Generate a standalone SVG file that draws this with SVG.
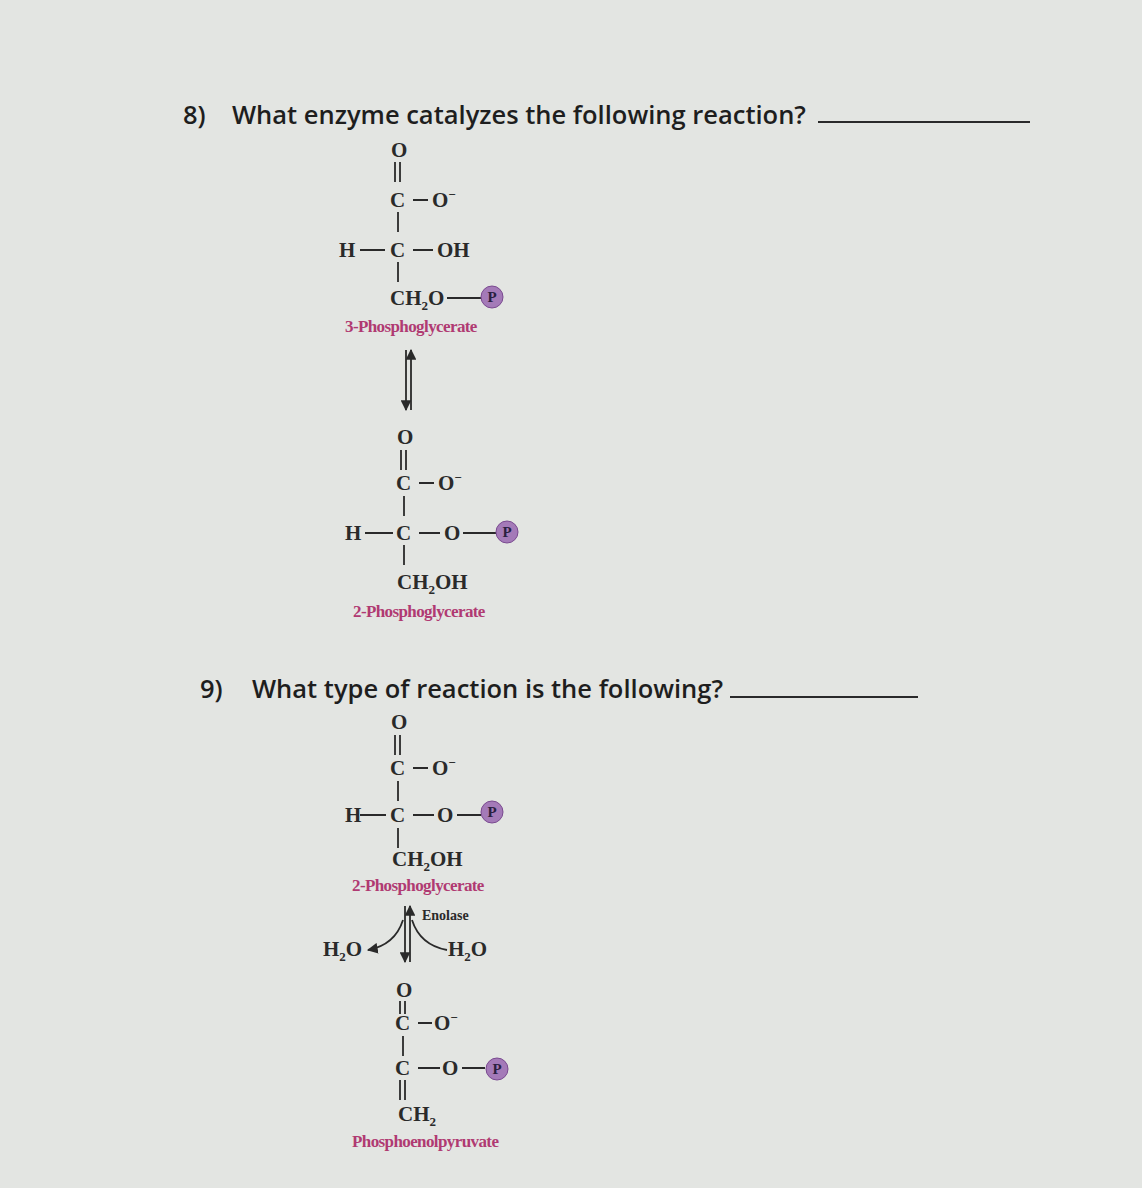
<svg xmlns="http://www.w3.org/2000/svg" width="1142" height="1188" viewBox="0 0 1142 1188">
<defs>
<style>
.q{font-family:"Open Sans","Liberation Sans",sans-serif;font-size:25.5px;font-weight:600;fill:#1e1e1e}
.a{font-family:"Liberation Serif",serif;font-size:21px;font-weight:bold;fill:#2a2a2a}
.s{font-size:13px}
.lb{font-family:"Liberation Serif",serif;font-size:17px;font-weight:bold;fill:#b03a72;letter-spacing:-0.6px}
.b{stroke:#2a2a2a;stroke-width:1.8;fill:none}
.pc{fill:#a47ab8;stroke:#7a4a90;stroke-width:1}
.pt{font-family:"Liberation Serif",serif;font-size:15px;font-weight:bold;fill:#2a2040;text-anchor:middle}
</style>
<marker id="ah" viewBox="0 0 10 10" refX="9" refY="5" markerWidth="6" markerHeight="6" orient="auto-start-reverse"><path d="M0,0 L10,5 L0,10 z" fill="#2a2a2a"/></marker>
</defs>
<rect width="1142" height="1188" fill="#e3e5e2"/>
<g id="q8"><text class="q" x="183" y="124">8)</text><text class="q" x="232" y="124">What enzyme catalyzes the following reaction?</text><line x1="818" y1="122" x2="1030" y2="122" class="b"/></g>
<g id="m1">
<text class="a" x="391" y="157">O</text>
<path class="b" d="M395,162V182M400,162V182M398,212V232M398,262V282M413,200H428M360,250H385M413,250H433M447,298H482"/>
<text class="a" x="390" y="207">C</text><text class="a" x="432" y="207">O<tspan class="s" dy="-8">−</tspan></text>
<text class="a" x="339" y="257">H</text><text class="a" x="390" y="257">C</text><text class="a" x="437" y="257">OH</text>
<text class="a" x="390" y="305">CH<tspan class="s" dy="5">2</tspan><tspan dy="-5">O</tspan></text>
<circle class="pc" cx="492" cy="297" r="11"/><text class="pt" x="492" y="302">P</text>
<text class="lb" x="345" y="332">3-Phosphoglycerate</text>
</g>
<g id="m2">
<text class="a" x="397" y="444">O</text>
<path class="b" d="M401,450V470M406,450V470M404,496V516M404,545V565M419,483H434M365,533H393M419,533H440M463,533H496"/>
<text class="a" x="396" y="490">C</text><text class="a" x="438" y="490">O<tspan class="s" dy="-8">−</tspan></text>
<text class="a" x="345" y="540">H</text><text class="a" x="396" y="540">C</text><text class="a" x="444" y="540">O</text>
<circle class="pc" cx="507" cy="532" r="11"/><text class="pt" x="507" y="537">P</text>
<text class="a" x="397" y="589">CH<tspan class="s" dy="5">2</tspan><tspan dy="-5">OH</tspan></text>
<text class="lb" x="353" y="617">2-Phosphoglycerate</text>
</g>
<g id="q9"><text class="q" x="200" y="698">9)</text><text class="q" x="252" y="698">What type of reaction is the following?</text><line x1="730" y1="697" x2="918" y2="697" class="b"/></g>
<g id="m3">
<text class="a" x="391" y="729">O</text>
<path class="b" d="M395,735V755M400,735V755M398,781V801M398,828V848M413,768H428M360,815H386M413,815H434M457,815H481"/>
<text class="a" x="390" y="775">C</text><text class="a" x="432" y="775">O<tspan class="s" dy="-8">−</tspan></text>
<text class="a" x="345" y="822">H</text><text class="a" x="390" y="822">C</text><text class="a" x="437" y="822">O</text>
<circle class="pc" cx="492" cy="812" r="11"/><text class="pt" x="492" y="817">P</text>
<text class="a" x="392" y="866">CH<tspan class="s" dy="5">2</tspan><tspan dy="-5">OH</tspan></text>
<text class="lb" x="352" y="891">2-Phosphoglycerate</text>
</g>
<g id="m4">
<text class="a" x="396" y="997">O</text>
<path class="b" d="M400,1001V1014M405,1001V1014M403,1036V1056M418,1023H432M418,1068H440M462,1068H485M400,1080V1100M405,1080V1100"/>
<text class="a" x="395" y="1030">C</text><text class="a" x="434" y="1030">O<tspan class="s" dy="-8">−</tspan></text>
<text class="a" x="395" y="1075">C</text><text class="a" x="442" y="1075">O</text>
<circle class="pc" cx="497" cy="1069" r="11"/><text class="pt" x="497" y="1074">P</text>
<text class="a" x="398" y="1121">CH<tspan class="s" dy="5">2</tspan></text>
<text class="lb" x="352" y="1147">Phosphoenolpyruvate</text>
</g>
<g id="enz">
<text class="a" x="422" y="920" style="font-size:14px">Enolase</text>
<text class="a" x="323" y="956">H<tspan class="s" dy="5">2</tspan><tspan dy="-5">O</tspan></text>
<text class="a" x="448" y="956">H<tspan class="s" dy="5">2</tspan><tspan dy="-5">O</tspan></text>
</g>
<g id="connectors">
<line class="b" x1="406" y1="350" x2="406" y2="410" marker-end="url(#ah)"/>
<line class="b" x1="411" y1="410" x2="411" y2="350" marker-end="url(#ah)"/>
<line class="b" x1="405" y1="906" x2="405" y2="962" marker-end="url(#ah)"/>
<line class="b" x1="410" y1="962" x2="410" y2="906" marker-end="url(#ah)"/>
<path class="b" d="M403,920 Q395,945 368,950" marker-end="url(#ah)"/>
<path class="b" d="M447,950 Q420,945 412,920"/>
</g>
</svg>
